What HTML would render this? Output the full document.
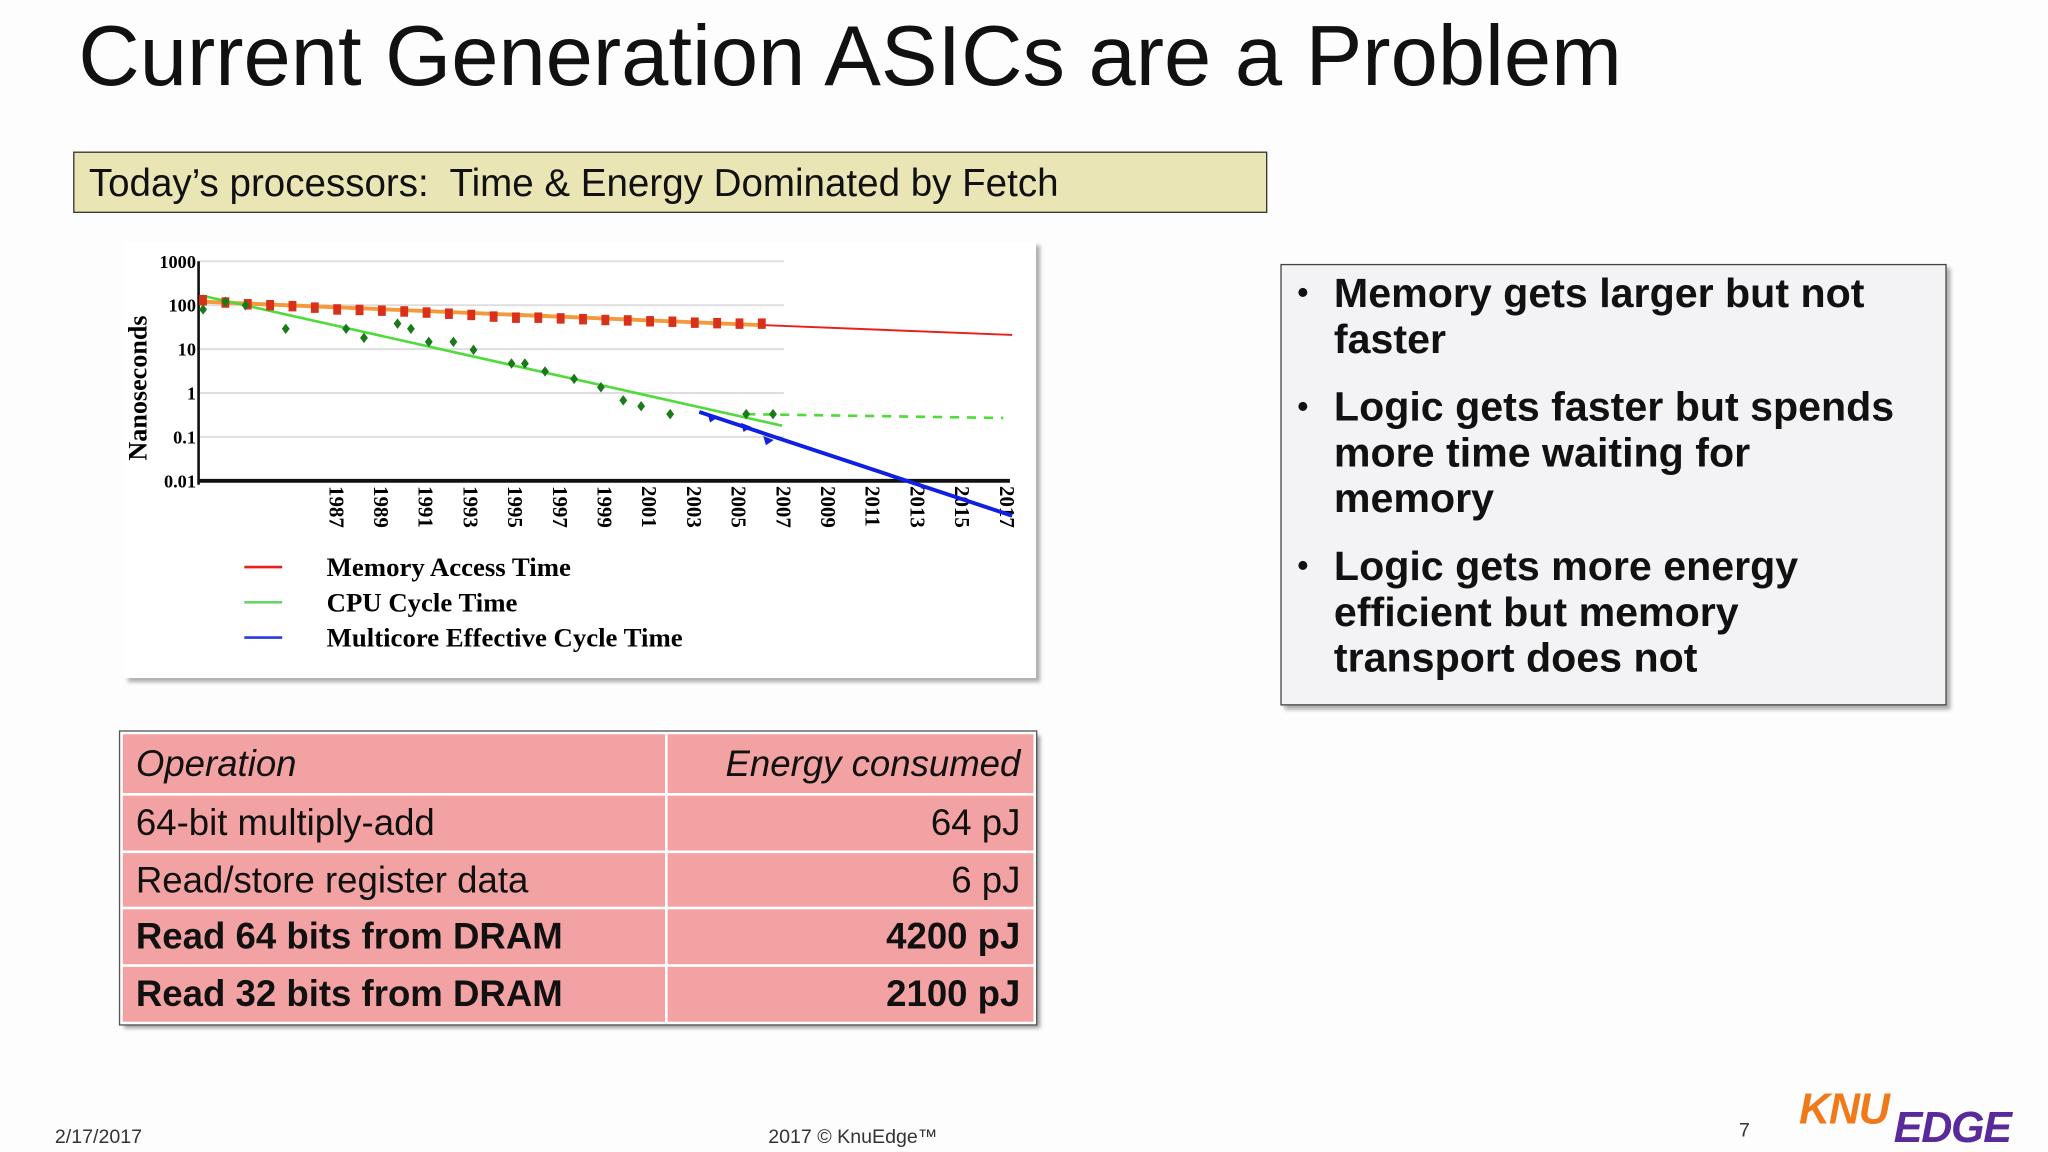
<!DOCTYPE html>
<html><head><meta charset="utf-8">
<style>
html,body{margin:0;padding:0;width:2048px;height:1152px;overflow:hidden;background:#fdfdfd;}
#stage{position:absolute;left:0;top:0;width:1560px;height:877.5px;transform:scale(1.3065);transform-origin:0 0;font-family:"Liberation Sans",sans-serif;}
.abs{position:absolute;}
#title{left:60px;top:5px;font-size:65px;color:#111;white-space:nowrap;}
#banner{left:56px;top:116px;width:914px;height:47px;background:#e9e5b5;border:1.5px solid #333;font-size:29.5px;line-height:48px;box-sizing:border-box;padding-left:11px;color:#111;}
#chartpanel{left:95px;top:185px;width:698px;height:334px;background:#fff;box-shadow:3px 3px 3px #aaa;}
#bullets{left:980px;top:202px;width:510px;height:338px;background:#f3f2f4;border:1.5px solid #444;box-sizing:border-box;box-shadow:3px 3px 3px #aaa;font-weight:bold;font-size:31.5px;line-height:35px;color:#111;}
#bullets .b{position:absolute;left:40px;white-space:nowrap;}
#bullets .b:before{content:"•";position:absolute;left:-28px;font-size:24px;}
table{border-collapse:collapse;}
#tbl{left:92px;top:560px;width:701px;box-shadow:3px 3px 3px #999;}
#tbl td{background:#f2a2a2;border:2px solid #fff;font-size:28px;padding:0 10px;color:#111;white-space:nowrap;}
#tbl{outline:1.5px solid #555;}
.foot{font-size:15px;color:#333;}
</style></head><body>
<div id="stage">
<div id="title" class="abs">Current Generation ASICs are a Problem</div>
<div id="banner" class="abs">Today’s processors:&nbsp; Time &amp; Energy Dominated by Fetch</div>
<div id="chartpanel" class="abs"></div>
<svg id="chart" class="abs" style="left:0;top:0" width="820" height="540"></svg>

<table id="tbl" class="abs">
<tr style="height:47px"><td style="width:395px;font-style:italic">Operation</td><td style="text-align:right;font-style:italic">Energy consumed</td></tr>
<tr style="height:44px"><td>64-bit multiply-add</td><td style="text-align:right">64 pJ</td></tr>
<tr style="height:43px"><td>Read/store register data</td><td style="text-align:right">6 pJ</td></tr>
<tr style="height:44px"><td style="font-weight:bold">Read 64 bits from DRAM</td><td style="text-align:right;font-weight:bold">4200 pJ</td></tr>
<tr style="height:44px"><td style="font-weight:bold">Read 32 bits from DRAM</td><td style="text-align:right;font-weight:bold">2100 pJ</td></tr>
</table>

<div id="bullets" class="abs">
<div class="b" style="top:4px">Memory gets larger but not<br>faster</div>
<div class="b" style="top:91px">Logic gets faster but spends<br>more time waiting for<br>memory</div>
<div class="b" style="top:213px">Logic gets more energy<br>efficient but memory<br>transport does not</div>
</div>

<div class="abs foot" style="left:42px;top:862px">2/17/2017</div>
<div class="abs foot" style="left:588px;top:862px">2017 © KnuEdge™</div>
<div class="abs foot" style="left:1331px;top:857px">7</div>
<div class="abs" style="left:1377px;top:830px;font-size:33px;font-weight:bold;font-style:italic;letter-spacing:-1px;white-space:nowrap"><span style="color:#f07a1a">KNU</span><span style="color:#5a2a9a;position:relative;top:14px;left:4px">EDGE</span></div>
</div>
<script>
const decades=[1000,100,10,1,0.1,0.01];
const decadeLabels=["1000","100","10","1","0.1","0.01"];
const yearLabels=[1987,1989,1991,1993,1995,1997,1999,2001,2003,2005,2007,2009,2011,2013,2015,2017];
const memYears=[1981,1982,1983,1984,1985,1986,1987,1988,1989,1990,1991,1992,1993,1994,1995,1996,1997,1998,1999,2000,2001,2002,2003,2004,2005,2006];
const memValues=[130,115,105,100,95,88,80,78,75,72,68,64,60,55,52,52,50,48,46,45,43,42,40,39,38,38];
const cpuYears=[1981.0,1982.0,1982.9,1984.7,1987.4,1988.2,1989.7,1990.3,1991.1,1992.2,1993.1,1994.8,1995.4,1996.3,1997.6,1998.8,1999.8,2000.6,2001.9,2005.3,2006.5];
const cpuValues=[80,120,100,29,29,18,38,29,14.6,14.6,9.6,4.7,4.7,3.1,2.1,1.35,0.68,0.5,0.33,0.33,0.33];
const memFitYears=[1981,2006.1];const memFitValues=[120,35];
const memTrendYears=[1996.4,2017.2];const memTrendValues=[55,21];
const cpuFitYears=[1981,2006.9];const cpuFitValues=[163,0.18];
const cpuFlatYears=[2005.3,2016.8];const cpuFlatValues=[0.33,0.27];
const mcYears=[2003.2,2017.2];const mcValues=[0.37,0.0016];
const mcMarkYears=[2003.8,2005.3,2006.3];const mcMarkValues=[0.28,0.17,0.085];

const svg=document.getElementById('chart');const NS='http://www.w3.org/2000/svg';
const X0=152,X1=773,Y0=200,Y1=368;
const xs=y=>X0+(y-1980.8)/(2017.1-1980.8)*(X1-X0);
const ys=v=>Y0+(3-Math.log10(v))/5*(Y1-Y0);
function mk(t,a){const e=document.createElementNS(NS,t);for(const k in a)e.setAttribute(k,a[k]);svg.appendChild(e);return e;}
decades.forEach((d,i)=>{
 if(i<5){const g=mk('line',{x1:X0,x2:600,y1:ys(d),y2:ys(d),stroke:'#ddd','stroke-width':1.5});
 
 }
 const t=mk('text',{x:X0-2,y:ys(d)+5,'text-anchor':'end','font-family':'Liberation Serif, serif','font-size':14,'font-weight':'bold'});
 t.textContent=decadeLabels[i];
 
 
});
const ya=mk('line',{x1:X0,x2:X0,y1:Y0,y2:Y1+3,stroke:'#111','stroke-width':2});


const xa=mk('line',{x1:X0,x2:X1,y1:Y1,y2:Y1,stroke:'#111','stroke-width':3});


const yt=mk('text',{x:0,y:0,transform:'translate(112,297) rotate(-90)','text-anchor':'middle','font-family':'Liberation Serif, serif','font-size':20,'font-weight':'bold'});
yt.textContent='Nanoseconds';


yearLabels.forEach(y=>{
 const t=mk('text',{x:0,y:0,transform:`translate(${xs(y)-6},372) rotate(90)`,'font-family':'Liberation Serif, serif','font-size':16,'font-weight':'bold'});
 t.textContent=y;
 
 
});
function line(xa,va,col,w,name,dash){const e=mk('line',{x1:xs(xa[0]),y1:ys(va[0]),x2:xs(xa[1]),y2:ys(va[1]),stroke:col,'stroke-width':w});if(dash)e.setAttribute('stroke-dasharray',dash);
 
 }
line(memTrendYears,memTrendValues,'#e8201c',1.5,'memory-trend-line');
line(memFitYears,memFitValues,'#f39a3c',3,'memory-fit-line');
line(cpuFitYears,cpuFitValues,'#4fdc3a',2,'cpu-fit-line');
line(cpuFlatYears,cpuFlatValues,'#4fdc3a',2,'cpu-flat-line','7,6');
line(mcYears,mcValues,'#1020e0',3,'multicore-line');
memYears.forEach((y,i)=>{const e=mk('rect',{x:xs(y)-3,y:ys(memValues[i])-4,width:6,height:8,fill:'#d8301a'});
 
 });
cpuYears.forEach((y,i)=>{const cx=xs(y),cy=ys(cpuValues[i]);const e=mk('polygon',{points:`${cx},${cy-4} ${cx+3},${cy} ${cx},${cy+4} ${cx-3},${cy}`,fill:'#1a7a1a'});
 
 });
mcMarkYears.forEach((y,i)=>{const cx=xs(y),cy=ys(mcMarkValues[i]);const e=mk('polygon',{points:`${cx-4},${cy-3} ${cx+4},${cy} ${cx-2},${cy+4}`,fill:'#1020e0'});
 
 });
const legend=[['Memory Access Time','#e8201c',434],['CPU Cycle Time','#6cd36c',461],['Multicore Effective Cycle Time','#2a3ae0',488]];
legend.forEach(l=>{const e=mk('line',{x1:187,x2:216,y1:l[2],y2:l[2],stroke:l[1],'stroke-width':2});
 
 
 const t=mk('text',{x:250,y:l[2]+7,'font-family':'Liberation Serif, serif','font-size':20.5,'font-weight':'bold'});t.textContent=l[0];
 
 });
</script>
</body></html>
